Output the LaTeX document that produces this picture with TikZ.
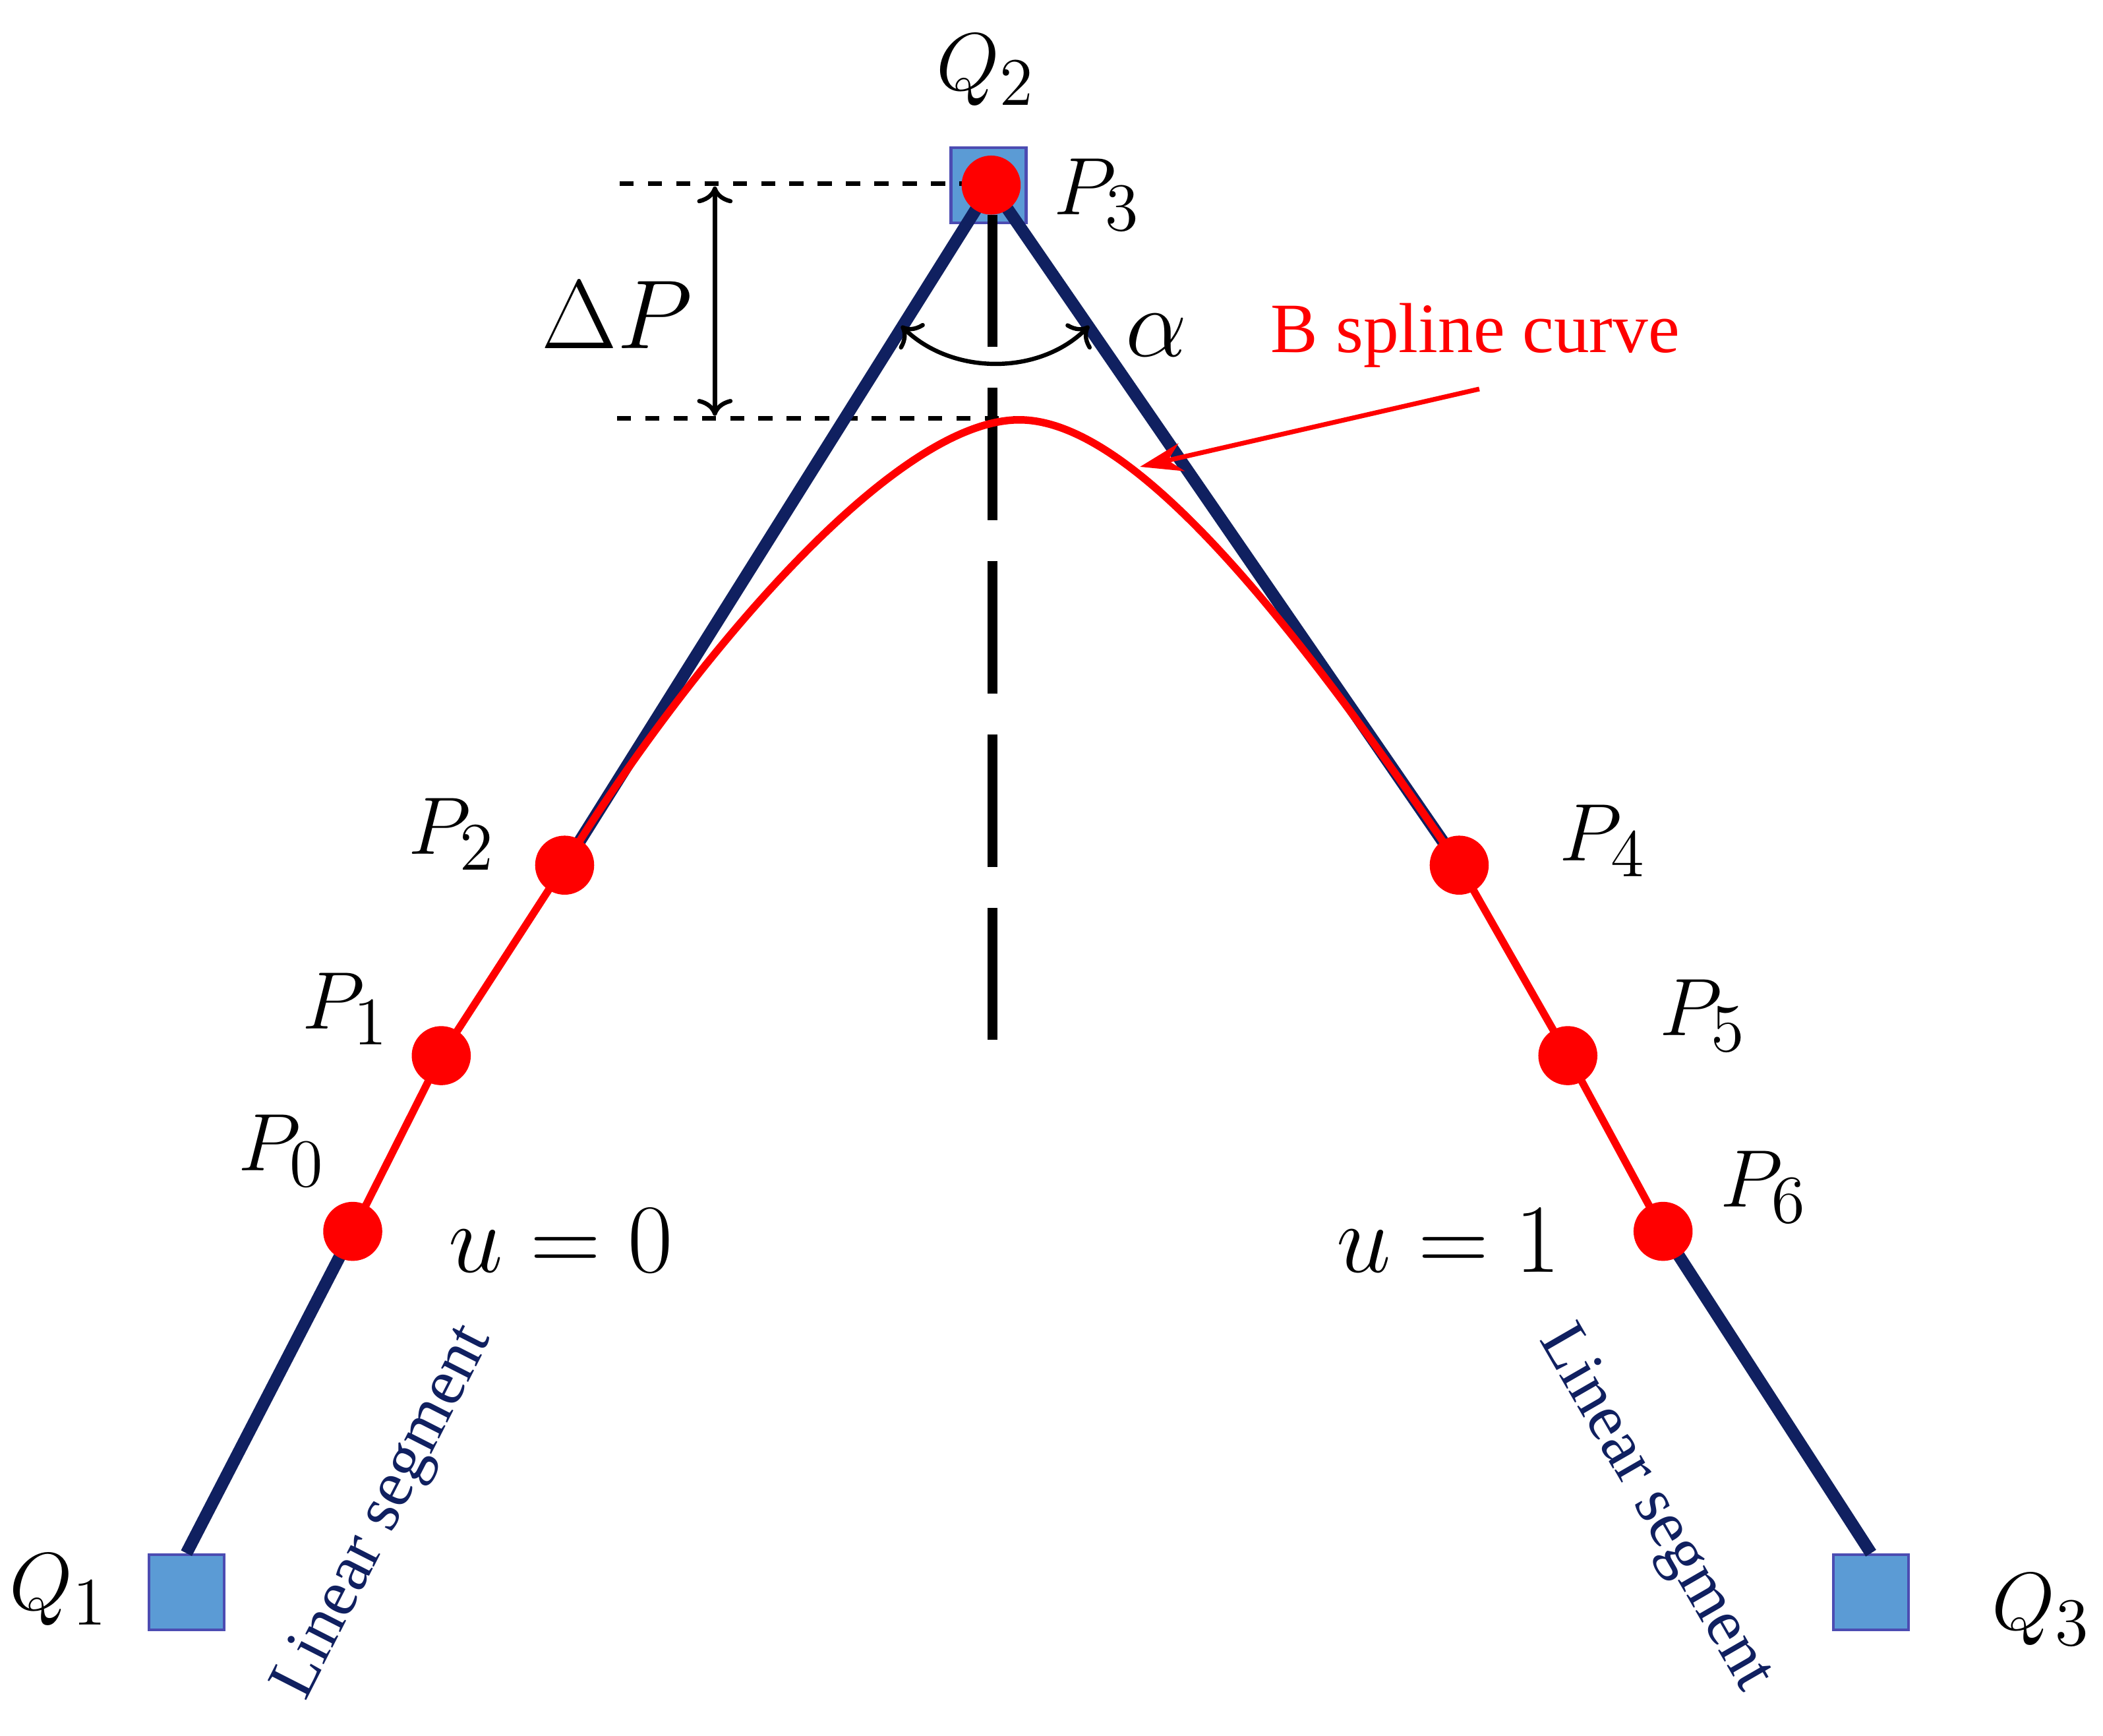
\documentclass[tikz,border=0pt]{standalone}
\usepackage{fontspec}
\newfontfamily\tnr{Liberation Serif}
\usetikzlibrary{arrows.meta}
\begin{document}
\begin{tikzpicture}[x=0.01cm,y=-0.01cm,
  sq/.style={draw=blue!40!gray,minimum size=0.56cm,inner sep=0pt,line width=0.6pt},
  pt/.style={circle,fill=red,minimum size=0.44cm,inner sep=0pt},
  lbl/.style={font=\fontsize{19}{22}\selectfont},
  big/.style={font=\fontsize{22}{25}\selectfont},
  navy/.style={draw={rgb,255:red,16;green,32;blue,96},line width=2.6pt},
  redl/.style={draw=red,line width=1.6pt}]
\definecolor{sqfill}{RGB}{91,155,213}
\definecolor{navyc}{RGB}{16,32,96}
\useasboundingbox (0,0) rectangle (1568,1294);
% squares
\node[sq,fill=sqfill] (Q1) at (139,1187) {};
\node[sq,fill=sqfill] (Q2) at (737,138) {};
\node[sq,fill=sqfill] (Q3) at (1395,1187) {};
% points coords
\coordinate (P0) at (263,918);
\coordinate (P1) at (329,787);
\coordinate (P2) at (421,645);
\coordinate (P3) at (739,138);
\coordinate (P4) at (1088,645);
\coordinate (P5) at (1169,787);
\coordinate (P6) at (1240,918);
% dashed lines
\draw[dashed,line width=1pt] (462,137) -- (737,137);
\draw[dashed,line width=1pt] (460,312) -- (760,312);
\draw[dash pattern=on 28pt off 8.75pt,line width=2pt] (740,160) -- (740,775);
% navy lines
\draw[navy] (Q1.north) -- (P0);
\draw[navy] (P2) -- (P3) -- (P4);
\draw[navy] (P6) -- (Q3.north);
% red
\draw[redl] (P0) -- (P1) -- (P2);
\draw[redl] (P2) .. controls (500,515) and (660,313) .. (760,313) .. controls (850,313) and (975,480) .. (P4);
\draw[redl] (P4) -- (P5) -- (P6);
% points
\foreach \p in {P0,P1,P2,P3,P4,P5,P6} \node[pt] at (\p) {};
% delta P arrow
\draw[<->,line width=0.9pt] (533,139) -- (533,310);
\node[big] (dP) at (460,235) {$\Delta P$};
% angle arc
\draw[<->,line width=0.9pt] (672,243) .. controls (710,280) and (775,280) .. (812,243);
\node[big] (al) at (862,250) {$\alpha$};
% B spline
\node[text=red,font=\tnr\fontsize{15}{18}\selectfont] (bs) at (1100,250) {B spline curve};
\coordinate (bsend) at (850,348);
\draw[red,-{Stealth[length=9pt,width=6pt]},line width=1pt] (1103,290) -- (bsend);
% labels
\node[lbl] at (735,52) {$Q_2$};
\node[lbl] at (44,1185) {$Q_1$};
\node[lbl] at (1522,1200) {$Q_3$};
\node[lbl] at (210,858) {$P_0$};
\node[lbl] at (258,752) {$P_1$};
\node[lbl] at (337,622) {$P_2$};
\node[lbl] at (818,145) {$P_3$};
\node[lbl] at (1195,627) {$P_4$};
\node[lbl] at (1270,757) {$P_5$};
\node[lbl] at (1315,885) {$P_6$};
\node[big] at (418,925) {$u=0$};
\node[big] at (1080,925) {$u=1$};
\node[text=navyc,font=\tnr\fontsize{14}{16}\selectfont,rotate=63] at (287,1128) {Linear segment};
\node[text=navyc,font=\tnr\fontsize{14}{16}\selectfont,rotate=-60] at (1233,1125) {Linear segment};
\end{tikzpicture}
\end{document}
